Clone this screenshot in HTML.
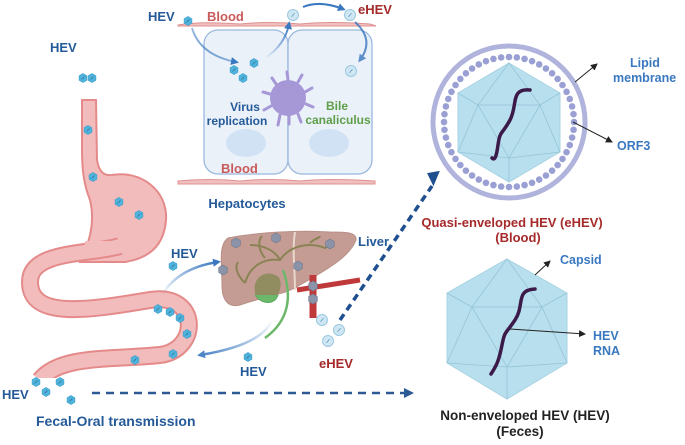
<!DOCTYPE html>
<html><head><meta charset="utf-8"><style>
html,body{margin:0;padding:0;background:#fff}
svg{display:block}
text{font-family:"Liberation Sans",sans-serif;font-weight:bold}
</style></head><body>
<svg width="685" height="445" viewBox="0 0 685 445" xmlns="http://www.w3.org/2000/svg">
<defs>
<g id="hv"><polygon points="0,-4.5 3.9,-2.25 3.9,2.25 0,4.5 -3.9,2.25 -3.9,-2.25" fill="#4fb3dc" stroke="#3a9cc8" stroke-width="0.6"/><line x1="-1.5" y1="1.5" x2="1.5" y2="-1.5" stroke="#2a6f98" stroke-width="0.7"/></g>
<g id="hg"><polygon points="0,-5 4.3,-2.5 4.3,2.5 0,5 -4.3,2.5 -4.3,-2.5" fill="#8a93a8" stroke="#6e7890" stroke-width="0.6"/></g>
<g id="ev"><circle r="5.5" fill="#cfe6f3" stroke="#9cc8e0" stroke-width="1"/><line x1="-1.5" y1="1.8" x2="1.5" y2="-1.8" stroke="#4a90b8" stroke-width="0.7"/></g>
<linearGradient id="ga" x1="0" y1="1" x2="1" y2="0"><stop offset="0" stop-color="#3a78c0" stop-opacity="0"/><stop offset="1" stop-color="#3a78c0"/></linearGradient>
<linearGradient id="gb" x1="1" y1="0" x2="0" y2="1"><stop offset="0" stop-color="#3a78c0" stop-opacity="0"/><stop offset="1" stop-color="#3a78c0"/></linearGradient>
<marker id="ar" markerWidth="8" markerHeight="8" refX="5" refY="4" orient="auto" markerUnits="userSpaceOnUse"><path d="M0,0 L8,4 L0,8 Z" fill="#3a78c0"/></marker>
<marker id="ak" markerWidth="7" markerHeight="7" refX="6" refY="3.5" orient="auto" markerUnits="userSpaceOnUse"><path d="M0,0 L7,3.5 L0,7 Z" fill="#222"/></marker>
</defs>

<!-- Hepatocytes -->
<g>
<path d="M178,25 Q200,21 240,24 Q270,21 300,24 Q330,21 370,24 L376,26 L178,26 Z" fill="#f0c0c0" stroke="#e09090" stroke-width="1"/>
<path d="M178,181 Q210,178 240,181 Q270,178 300,181 Q330,178 375,181 L375,184 L178,184 Z" fill="#f0c0c0" stroke="#e09090" stroke-width="1"/>
<rect x="204" y="30" width="84" height="144" rx="14" fill="#eaf1f9" stroke="#9ab8de" stroke-width="1.3"/>
<rect x="288" y="30" width="84" height="144" rx="14" fill="#eaf1f9" stroke="#9ab8de" stroke-width="1.3"/>
<ellipse cx="246" cy="143" rx="20" ry="14" fill="#d1e2f5"/>
<ellipse cx="329" cy="143" rx="20" ry="14" fill="#d1e2f5"/>
<circle cx="288" cy="98" r="18" fill="#a698d6"/>
<g stroke="#a698d6" stroke-width="3" fill="none" stroke-linecap="round">
<path d="M288,80 L287,72"/><path d="M298,82 L302,75"/><path d="M276,84 L272,78"/><path d="M305,92 L312,88"/><path d="M270,94 L263,92"/><path d="M306,104 L313,107"/><path d="M271,106 L264,110"/><path d="M298,114 L301,122"/><path d="M280,115 L278,125"/><path d="M289,116 L289,124"/>
</g>
<use href="#hv" x="188" y="21"/><use href="#hv" x="234" y="70"/><use href="#hv" x="254" y="63"/><use href="#hv" x="243" y="78"/>
<use href="#ev" x="293" y="15"/><use href="#ev" x="350" y="15"/><use href="#ev" x="351" y="71"/>
<path d="M192,28 Q200,55 236,62" fill="none" stroke="url(#gb)" stroke-width="2" marker-end="url(#ar)"/>
<path d="M265,58 Q285,45 289,24" fill="none" stroke="url(#ga)" stroke-width="2" marker-end="url(#ar)"/>
<path d="M303,7 Q320,0 343,9" fill="none" stroke="#3a78c0" stroke-width="2" marker-end="url(#ar)"/>
<path d="M355,22 Q375,40 360,60" fill="none" stroke="#3a78c0" stroke-width="2" marker-end="url(#ar)" opacity="0.8"/>
<text x="148" y="21" font-size="13" fill="#255a99">HEV</text>
<text x="207" y="21" font-size="13" fill="#c95a5a">Blood</text>
<text x="358" y="14" font-size="13" fill="#a52a2a">eHEV</text>
<text x="245" y="111" font-size="12" fill="#255a99" text-anchor="middle">Virus</text>
<text x="237" y="125" font-size="12" fill="#255a99" text-anchor="middle">replication</text>
<text x="337" y="110" font-size="12" fill="#5f9e4a" text-anchor="middle">Bile</text>
<text x="338" y="124" font-size="12" fill="#5f9e4a" text-anchor="middle">canaliculus</text>
<text x="221" y="173" font-size="13" fill="#c95a5a">Blood</text>
<text x="247" y="208" font-size="13" fill="#255a99" text-anchor="middle">Hepatocytes</text>
</g>

<!-- Stomach & intestine -->
<path d="M82,100 L96,100 L97,160 C99,172 104,176 112,175 C140,170 168,190 166,220 C164,245 150,258 125,262 L80,262 C88,245 96,225 90,200 C84,185 82,170 82,150 Z" fill="#f2bcbc" stroke="#e58a8a" stroke-width="2"/>
<path d="M120,246 C90,255 30,250 30,282 C30,320 90,310 150,300 C200,292 200,350 160,355 C110,360 60,355 40,380" fill="none" stroke="#e58a8a" stroke-width="18"/>
<path d="M120,246 C90,255 30,250 30,282 C30,320 90,310 150,300 C200,292 200,350 160,355 C110,360 60,355 40,380" fill="none" stroke="#f2bcbc" stroke-width="14"/>
<path d="M85,241 L132,241 L132,252 L85,256 Z" fill="#f2bcbc"/>
<rect x="26" y="378" width="30" height="10" fill="#fff"/>
<text x="50" y="52" font-size="13" fill="#255a99">HEV</text>
<use href="#hv" x="83" y="78"/><use href="#hv" x="92" y="78"/>
<use href="#hv" x="88" y="130"/><use href="#hv" x="93" y="177"/><use href="#hv" x="119" y="202"/><use href="#hv" x="139" y="215"/>
<use href="#hv" x="158" y="309"/><use href="#hv" x="170" y="312"/><use href="#hv" x="180" y="318"/><use href="#hv" x="187" y="334"/><use href="#hv" x="173" y="354"/><use href="#hv" x="135" y="360"/>
<use href="#hv" x="36" y="382"/><use href="#hv" x="60" y="382"/><use href="#hv" x="46" y="392"/><use href="#hv" x="71" y="400"/>
<use href="#hv" x="173" y="266"/><use href="#hv" x="248" y="357"/>
<text x="2" y="399" font-size="13" fill="#255a99">HEV</text>
<text x="36" y="426" font-size="14" fill="#255a99">Fecal-Oral transmission</text>
<text x="171" y="258" font-size="13" fill="#255a99">HEV</text>
<text x="240" y="376" font-size="13" fill="#255a99">HEV</text>
<path d="M162,295 Q178,268 218,262" fill="none" stroke="url(#ga)" stroke-width="2.5" marker-end="url(#ar)"/>
<path d="M272,320 Q262,345 200,355" fill="none" stroke="url(#gb)" stroke-width="2.5" marker-end="url(#ar)" opacity="0.9"/>

<!-- Liver -->
<path d="M228,238 C260,232 300,230 330,232 C345,232 357,232 356,240 C350,256 330,268 300,285 C285,295 265,296 240,305 C228,308 222,300 222,285 C222,265 218,245 228,238 Z" fill="#c49c93" stroke="#b89088" stroke-width="1"/>
<path d="M295,232 C292,250 295,270 295,290" stroke="#e8d8cc" stroke-width="2" fill="none"/>
<g stroke="#8a8455" stroke-width="2" fill="none">
<path d="M245,283 C250,265 265,258 280,260 C290,245 310,242 325,248 C330,245 335,240 332,244"/>
<path d="M280,260 C275,250 262,245 250,245"/><path d="M265,258 C258,250 258,240 262,236"/><path d="M310,243 C315,238 320,238 320,236"/><path d="M245,283 C238,276 234,268 238,262"/>
</g>
<path d="M255,293 C252,278 265,270 275,275 C283,277 282,290 275,300 C268,305 257,303 255,293 Z" fill="#8a8a58" opacity="0.85"/>
<path d="M255,295 C262,305 275,305 278,295" fill="#6cb86a" stroke="#5aa85a" stroke-width="1"/>
<path d="M283,270 C292,295 290,320 265,338" stroke="#6cb86a" stroke-width="2.5" fill="none"/>
<path d="M297,290 L360,280" stroke="#c0393a" stroke-width="5"/>
<path d="M313,275 L313,318" stroke="#c0393a" stroke-width="7"/>
<use href="#hg" x="236" y="243"/><use href="#hg" x="276" y="238"/><use href="#hg" x="330" y="244"/><use href="#hg" x="223" y="270"/><use href="#hg" x="298" y="266"/><use href="#hg" x="313" y="286"/><use href="#hg" x="313" y="299"/>
<use href="#ev" x="322" y="320"/><use href="#ev" x="339" y="330"/><use href="#ev" x="328" y="341"/>
<text x="358" y="246" font-size="13" fill="#255a99">Liver</text>
<text x="319" y="368" font-size="13" fill="#a52a2a">eHEV</text>

<!-- dashed arrows -->
<path d="M340,320 L432,186" stroke="#1f4f8f" stroke-width="3.5" stroke-dasharray="7,5" fill="none"/>
<path d="M428,172 L441,172 L432,186 Z" fill="#1f4f8f" transform="rotate(-10 434 178)"/>
<path d="M92,393 L405,393" stroke="#2b5a94" stroke-width="2.5" stroke-dasharray="8,6"/>
<path d="M404,388 L414,393 L404,398 Z" fill="#2b5a94"/>

<!-- Quasi-enveloped -->
<circle cx="509" cy="122" r="76" fill="#fff" stroke="#b0b4dc" stroke-width="5"/>
<g id="dots" fill="#9aa0d4">
</g>
<polygon points="509,63 560,93 560,152 509,182 458,152 458,93" fill="#b8dfee" stroke="#a9d3e3" stroke-width="1"/>
<g stroke="#94c4d8" stroke-width="0.8" fill="none">
<path d="M509,63 L478,105 L540,105 Z"/><path d="M478,105 L458,93 M540,105 L560,93 M478,105 L509,158 L540,105 M458,152 L478,105 M560,152 L540,105 M509,158 L509,182 M509,158 L458,152 M509,158 L560,152"/>
</g>
<path d="M530,90 C510,88 518,105 510,120 C502,135 500,130 498,145 C496,160 494,160 492,158" stroke="#3b1a4a" stroke-width="3.5" fill="none" stroke-linecap="round"/>
<text x="630" y="67" font-size="12.5" fill="#3a78c0">Lipid</text>
<text x="613" y="82" font-size="12.5" fill="#3a78c0">membrane</text>
<text x="617" y="150" font-size="12.5" fill="#3a78c0">ORF3</text>
<path d="M575,82 L597,64" stroke="#222" stroke-width="1" marker-end="url(#ak)"/>
<path d="M573,122 L612,142" stroke="#222" stroke-width="1" marker-end="url(#ak)"/>
<text x="512" y="227" font-size="13" fill="#a52a2a" text-anchor="middle">Quasi-enveloped  HEV (eHEV)</text>
<text x="518" y="242" font-size="13" fill="#a52a2a" text-anchor="middle">(Blood)</text>

<!-- Non-enveloped -->
<polygon points="507,259 567,293 567,363 507,399 447,363 447,293" fill="#b8dfee" stroke="#a9d3e3" stroke-width="1"/>
<g stroke="#94c4d8" stroke-width="0.8" fill="none">
<path d="M507,259 L472,307 L542,307 Z M472,307 L447,293 M542,307 L567,293 M472,307 L507,367 L542,307 M447,363 L472,307 M567,363 L542,307 M507,367 L507,399 M507,367 L447,363 M507,367 L567,363"/>
</g>
<path d="M535,289 C515,290 525,305 515,320 C505,335 505,330 502,345 C499,360 497,365 491,374" stroke="#3b1a4a" stroke-width="3.5" fill="none" stroke-linecap="round"/>
<path d="M535,275 L550,261" stroke="#222" stroke-width="1" marker-end="url(#ak)"/>
<path d="M510,329 L585,334" stroke="#222" stroke-width="1" marker-end="url(#ak)"/>
<text x="560" y="264" font-size="12.5" fill="#3a78c0">Capsid</text>
<text x="593" y="340" font-size="12.5" fill="#3a78c0">HEV</text>
<text x="593" y="355" font-size="12.5" fill="#3a78c0">RNA</text>
<text x="525" y="420" font-size="13.5" fill="#222" text-anchor="middle">Non-enveloped HEV (HEV)</text>
<text x="520" y="436" font-size="13.5" fill="#222" text-anchor="middle">(Feces)</text>
</svg>
<script>
var g=document.getElementById('dots');
for(var i=0;i<52;i++){var a=i*2*Math.PI/52;var c=document.createElementNS('http://www.w3.org/2000/svg','circle');c.setAttribute('cx',509+65*Math.cos(a));c.setAttribute('cy',122+65*Math.sin(a));c.setAttribute('r',3.3);g.appendChild(c);}
</script>
</body></html>
